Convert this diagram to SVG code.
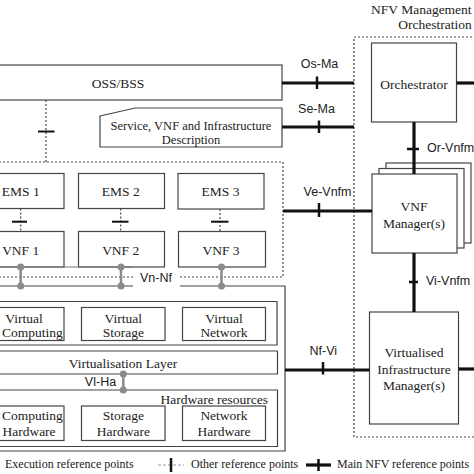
<svg xmlns="http://www.w3.org/2000/svg" width="474" height="474" viewBox="0 0 474 474">
<style>
.box{fill:#fff;stroke:#444;stroke-width:1.2}
.ln{fill:none;stroke:#444;stroke-width:1.2}
.dot{fill:none;stroke:#444;stroke-width:1.2;stroke-dasharray:2 2}
.thick{fill:none;stroke:#111;stroke-width:3.2}
.tick{stroke:#111;stroke-width:2.5}
.ttick{stroke:#111;stroke-width:2}
.exec{stroke:#8a8a8a;stroke-width:2.5;fill:none}
.execd{fill:#8a8a8a}
.gline{fill:none;stroke:#777;stroke-width:1.2}
.gdash{fill:none;stroke:#999;stroke-width:1.2;stroke-dasharray:3 2}
.t{font-family:"Liberation Serif","Times New Roman",serif;font-size:13.5px;fill:#222;text-anchor:middle}
.ts{font-family:"Liberation Serif","Times New Roman",serif;font-size:12.5px;fill:#222}
.tl{font-family:"Liberation Serif","Times New Roman",serif;font-size:12px;fill:#222}
.s{font-family:"Liberation Sans",Arial,sans-serif;font-size:12.5px;fill:#222;text-anchor:middle}
</style>
<rect width="474" height="474" fill="#fff"/>

<g id="mano">
<path class="dot" d="M480 37 H354 V437 H480"/>
<text class="t" x="371" y="14" style="text-anchor:start">NFV Management</text>
<text class="t" x="435" y="29">Orchestration</text>
</g>

<g id="vnf-domain">
<path class="dot" d="M-5 162 H283 V277 H180 M133 277 H-5"/>
</g>

<g id="oss-bss">
<rect class="box" x="-10" y="65" width="292" height="35"/>
<text class="t" x="118" y="88">OSS/BSS</text>
</g>

<g id="service-description">
<path class="box" d="M100 116 L135 108 H282 V147 H100 Z"/>
<text class="ts" x="191" y="129.5" text-anchor="middle">Service, VNF and Infrastructure</text>
<text class="ts" x="191" y="143.5" text-anchor="middle">Description</text>
</g>

<g id="orchestrator">
<rect class="box" x="371.5" y="43" width="85" height="79"/>
<text class="t" x="414" y="88.5">Orchestrator</text>
</g>

<g id="vnf-manager">
<rect class="box" x="386" y="163" width="85" height="80"/>
<rect class="box" x="379" y="168.5" width="85" height="79.5"/>
<rect class="box" x="372" y="174" width="85" height="79"/>
<text class="t" x="414" y="211">VNF</text>
<text class="t" x="414" y="227.5">Manager(s)</text>
</g>

<g id="vim">
<rect class="box" x="369.5" y="312" width="89" height="112"/>
<text class="t" x="414" y="357">Virtualised</text>
<text class="t" x="414" y="373.5">Infrastructure</text>
<text class="t" x="414" y="390">Manager(s)</text>
</g>

<g id="ems1">
<rect class="box" x="-22" y="173.5" width="86" height="35"/>
<text class="t" x="20.7" y="196">EMS 1</text>
</g>
<g id="ems2">
<rect class="box" x="78.5" y="173.5" width="86" height="35"/>
<text class="t" x="120.7" y="196">EMS 2</text>
</g>
<g id="ems3">
<rect class="box" x="178" y="173.5" width="86" height="35.5"/>
<text class="t" x="220.5" y="196">EMS 3</text>
</g>

<g id="vnf1">
<rect class="box" x="-22" y="231.5" width="86" height="35.5"/>
<text class="t" x="20.7" y="254.5">VNF 1</text>
</g>
<g id="vnf2">
<rect class="box" x="78.5" y="231.5" width="86" height="35.5"/>
<text class="t" x="120.7" y="254.5">VNF 2</text>
</g>
<g id="vnf3">
<rect class="box" x="178.5" y="231.5" width="87" height="35.5"/>
<text class="t" x="221" y="254.5">VNF 3</text>
</g>

<g id="nfvi">
<path class="ln" d="M-5 286 H133 M180 286 H285 V451 H-5"/>
</g>

<g id="virtual-resources">
<path class="ln" d="M-5 301.5 H277 V345 H-5"/>
</g>
<g id="virtual-computing">
<rect class="box" x="-19" y="307.5" width="83" height="33"/>
<text class="t" x="24" y="322.8">Virtual</text>
<text class="t" x="32.5" y="337">Computing</text>
</g>
<g id="virtual-storage">
<rect class="box" x="81.5" y="307.5" width="83.5" height="33"/>
<text class="t" x="123.3" y="322.8">Virtual</text>
<text class="t" x="123.3" y="337">Storage</text>
</g>
<g id="virtual-network">
<rect class="box" x="182.5" y="307.5" width="83" height="33"/>
<text class="t" x="224" y="322.8">Virtual</text>
<text class="t" x="224" y="337">Network</text>
</g>

<g id="virtualisation-layer">
<path class="ln" d="M-5 351 H277.5 V374 H-5"/>
<text class="t" x="123" y="367.5">Virtualisation Layer</text>
</g>

<g id="hardware-resources">
<path class="ln" d="M-5 390 H277.5 V446.5 H-5"/>
<text class="t" x="268" y="403.8" style="text-anchor:end">Hardware resources</text>
</g>
<g id="computing-hardware">
<rect class="box" x="-19" y="406" width="83" height="34.5"/>
<text class="t" x="32.5" y="419.5">Computing</text>
<text class="t" x="29" y="435.5">Hardware</text>
</g>
<g id="storage-hardware">
<rect class="box" x="81.5" y="406" width="83.5" height="34.5"/>
<text class="t" x="123.3" y="419.5">Storage</text>
<text class="t" x="123.3" y="435.5">Hardware</text>
</g>
<g id="network-hardware">
<rect class="box" x="182.5" y="406" width="83" height="34.5"/>
<text class="t" x="224" y="419.5">Network</text>
<text class="t" x="224" y="435.5">Hardware</text>
</g>

<g id="connectors">
<line class="dot" x1="46" y1="100" x2="46" y2="162"/>
<line class="ttick" x1="38" y1="131.5" x2="54.5" y2="131.5"/>
<line class="thick" x1="282" y1="83" x2="354" y2="83"/>
<line class="tick" x1="317" y1="76.5" x2="317" y2="89"/>
<text class="s" x="319.5" y="67.5">Os-Ma</text>
<line class="thick" x1="282" y1="127" x2="354" y2="127"/>
<line class="tick" x1="319" y1="120.5" x2="319" y2="133"/>
<text class="s" x="316.5" y="113">Se-Ma</text>
<line class="thick" x1="456.5" y1="83" x2="476" y2="83"/>
<line class="thick" x1="414" y1="122" x2="414" y2="174"/>
<line class="tick" x1="407" y1="149" x2="419" y2="149"/>
<text class="s" x="427" y="151.5" style="text-anchor:start">Or-Vnfm</text>
<line class="thick" x1="283" y1="211" x2="372" y2="211"/>
<line class="tick" x1="319" y1="203" x2="319" y2="217"/>
<text class="s" x="327.5" y="195.5">Ve-Vnfm</text>
<line class="thick" x1="414" y1="253" x2="414" y2="312"/>
<line class="tick" x1="409" y1="282" x2="418" y2="282"/>
<text class="s" x="426" y="285" style="text-anchor:start">Vi-Vnfm</text>
<line class="thick" x1="285" y1="370" x2="369.5" y2="370"/>
<line class="tick" x1="323" y1="362" x2="323" y2="374.5"/>
<text class="s" x="323.3" y="355">Nf-Vi</text>
<line class="thick" x1="458.5" y1="369" x2="476" y2="369"/>
<line class="dot" x1="20.7" y1="208.5" x2="20.7" y2="231.5"/>
<line class="ttick" x1="12" y1="221.7" x2="27" y2="221.7"/>
<line class="dot" x1="120.7" y1="208.5" x2="120.7" y2="231.5"/>
<line class="ttick" x1="112" y1="221.7" x2="128.5" y2="221.7"/>
<line class="dot" x1="220" y1="209" x2="220" y2="231.5"/>
<line class="ttick" x1="211" y1="221.7" x2="228.5" y2="221.7"/>
<line class="gline" x1="-5" y1="267" x2="133" y2="267"/>
<line class="exec" x1="20.7" y1="267" x2="20.7" y2="286"/>
<circle class="execd" cx="20.7" cy="267" r="3.5"/>
<circle class="execd" cx="20.7" cy="286" r="3.5"/>
<line class="exec" x1="121" y1="267" x2="121" y2="286"/>
<circle class="execd" cx="121" cy="267" r="3.5"/>
<circle class="execd" cx="121" cy="286" r="3.5"/>
<line class="exec" x1="221.5" y1="267" x2="221.5" y2="286"/>
<circle class="execd" cx="221.5" cy="267" r="3.5"/>
<circle class="execd" cx="221.5" cy="286" r="3.5"/>
<text class="s" x="156" y="281.5">Vn-Nf</text>
<line class="exec" x1="123.3" y1="374" x2="123.3" y2="390"/>
<circle class="execd" cx="123.3" cy="374" r="3.5"/>
<circle class="execd" cx="123.3" cy="390" r="3.5"/>
<text class="s" x="100.5" y="385.5">Vl-Ha</text>
</g>

<g id="legend">
<text class="tl" x="5" y="468">Execution reference points</text>
<line class="gdash" x1="158" y1="465" x2="184" y2="465"/>
<line class="tick" x1="171" y1="458" x2="171" y2="472"/>
<text class="tl" x="191" y="468">Other reference points</text>
<line class="thick" x1="306" y1="465" x2="331" y2="465"/>
<line class="tick" x1="318.5" y1="459" x2="318.5" y2="471"/>
<text class="tl" x="337" y="468">Main NFV reference points</text>
</g>
</svg>
